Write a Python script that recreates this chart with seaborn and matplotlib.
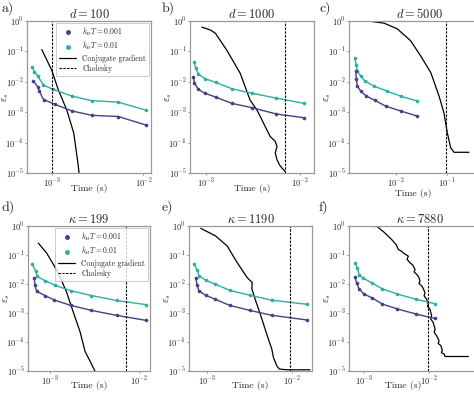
import matplotlib
matplotlib.use("Agg")
import seaborn as sns
from matplotlib import pyplot as plt
from matplotlib.lines import Line2D
from matplotlib.ticker import LogLocator, NullLocator

# a) d = 100
a_t_low = [6.31e-4, 7.03e-4, 7.28e-4, 8.13e-4, 1.09e-3, 1.66e-3, 2.73e-3, 5.33e-3, 1.06e-2]
a_e_low = [1.05e-2, 6.9e-3, 5.1e-3, 2.6e-3, 1.8e-3, 1.1e-3, 7.9e-4, 7.2e-4, 3.8e-4]
a_t_high = [6.05e-4, 6.47e-4, 7.03e-4, 8.11e-4, 1.04e-3, 1.65e-3, 2.73e-3, 5.33e-3, 1.06e-2]
a_e_high = [3.1e-2, 2.14e-2, 1.55e-2, 7.8e-3, 5.6e-3, 3.4e-3, 2.4e-3, 2.14e-3, 1.17e-3]
a_t_cg = [7.78e-4, 1.0e-3, 1.18e-3, 1.46e-3, 1.74e-3, 1.95e-3, 2.0e-3]
a_e_cg = [0.115, 2.4e-2, 5.4e-3, 1.17e-3, 2.04e-4, 1.66e-5, 8e-6]
a_chol = 1.0e-3

# b) d = 1000
b_t_low = [7.31e-4, 7.5e-4, 8.28e-4, 9.75e-4, 1.28e-3, 1.88e-3, 3.08e-3, 5.62e-3, 1.10e-2]
b_e_low = [1.48e-2, 9.3e-3, 5.6e-3, 4.2e-3, 3.1e-3, 1.95e-3, 1.41e-3, 8.7e-4, 6.6e-4]
b_t_high = [7.43e-4, 7.74e-4, 8.28e-4, 9.75e-4, 1.28e-3, 1.88e-3, 3.08e-3, 5.62e-3, 1.10e-2]
b_e_high = [4.57e-2, 2.88e-2, 1.78e-2, 1.26e-2, 9.5e-3, 5.9e-3, 4.2e-3, 2.9e-3, 1.95e-3]
b_t_cg = [9.0e-4, 1.12e-3, 1.26e-3, 1.66e-3, 2.31e-3, 2.94e-3, 3.47e-3, 3.93e-3, 4.44e-3,
          4.82e-3, 5.45e-3, 5.69e-3, 5.45e-3, 5.69e-3, 6.05e-3, 6.43e-3, 6.98e-3]
b_e_cg = [0.63, 0.50, 0.39, 0.11, 1.9e-2, 2.5e-3, 1.2e-3, 5.6e-4, 2.6e-4,
          1.58e-4, 1.1e-4, 7.4e-5, 4.6e-5, 2.75e-5, 1.86e-5, 1.45e-5, 1.1e-5]
b_chol = 7.0e-3

# c) d = 5000
c_t_low = [1.68e-3, 1.74e-3, 1.81e-3, 2.10e-3, 2.70e-3, 3.98e-3, 6.40e-3, 1.25e-2, 2.63e-2]
c_e_low = [2.29e-2, 1.2e-2, 7.2e-3, 5.0e-3, 3.4e-3, 2.45e-3, 1.58e-3, 1.1e-3, 7.4e-4]
c_t_high = [1.63e-3, 1.73e-3, 1.81e-3, 2.10e-3, 2.51e-3, 3.81e-3, 6.70e-3, 1.29e-2, 2.63e-2]
c_e_high = [5.9e-2, 3.55e-2, 2.29e-2, 1.55e-2, 1.07e-2, 7.2e-3, 5.0e-3, 3.3e-3, 2.34e-3]
c_t_cg = [3.55e-3, 5.94e-3, 1.08e-2, 1.95e-2, 3.05e-2, 4.79e-2, 6.92e-2, 8.6e-2, 0.1, 0.116, 0.135, 0.263]
c_e_cg = [0.955, 0.85, 0.55, 0.224, 7.1e-2, 2.0e-2, 3.4e-3, 9.5e-4, 2.1e-4, 6.8e-5, 4.8e-5, 4.8e-5]
c_chol = 9.3e-2

# d) kappa = 199
d_t_low = [6.68e-4, 6.79e-4, 7.10e-4, 8.79e-4, 1.12e-3, 1.72e-3, 2.92e-3, 5.57e-3, 1.18e-2]
d_e_low = [1.55e-2, 9.1e-3, 5.6e-3, 4.0e-3, 2.8e-3, 1.82e-3, 1.23e-3, 8.3e-4, 5.6e-4]
d_t_high = [6.34e-4, 6.92e-4, 7.21e-4, 8.79e-4, 1.14e-3, 1.70e-3, 2.92e-3, 5.57e-3, 1.18e-2]
d_e_high = [4.8e-2, 2.8e-2, 1.82e-2, 1.29e-2, 9.1e-3, 5.9e-3, 4.0e-3, 2.7e-3, 1.95e-3]
d_t_cg = [7.41e-4, 9.18e-4, 1.24e-3, 1.54e-3, 1.82e-3, 2.17e-3, 2.47e-3, 2.81e-3, 3.19e-3]
d_e_cg = [0.257, 0.117, 2.45e-2, 5.1e-3, 1.1e-3, 2.3e-4, 4.8e-5, 2.2e-5, 1.0e-5]
d_chol = 7.2e-3

# e) kappa = 1190
e_t_low = [7.29e-4, 7.62e-4, 7.98e-4, 9.55e-4, 1.25e-3, 1.85e-3, 3.18e-3, 5.82e-3, 1.5e-2]
e_e_low = [1.66e-2, 8.9e-3, 5.75e-3, 4.1e-3, 2.95e-3, 1.82e-3, 1.23e-3, 8.3e-4, 5.75e-4]
e_t_high = [6.97e-4, 7.62e-4, 7.98e-4, 9.55e-4, 1.25e-3, 1.85e-3, 3.18e-3, 5.82e-3, 1.5e-2]
e_e_high = [4.8e-2, 3.0e-2, 1.9e-2, 1.35e-2, 9.8e-3, 6.0e-3, 4.1e-3, 2.75e-3, 2.0e-3]
e_t_cg = [8.36e-4, 1.25e-3, 1.72e-3, 2.25e-3, 2.96e-3, 3.39e-3, 3.36e-3, 3.67e-3, 4.02e-3,
          4.41e-3, 4.81e-3, 5.26e-3, 5.77e-3, 6.03e-3, 6.61e-3, 7.10e-3, 8.67e-3, 1.63e-2]
e_e_cg = [0.83, 0.457, 0.204, 5.5e-2, 1.66e-2, 1.12e-2, 6.8e-3, 3.0e-3, 1.38e-3,
          6.2e-4, 2.8e-4, 1.26e-4, 5.75e-5, 2.95e-5, 1.5e-5, 1.17e-5, 1.1e-5, 1.1e-5]
e_chol = 9.5e-3

# f) kappa = 7880
f_t_low = [7.28e-4, 7.71e-4, 8.38e-4, 1.0e-3, 1.34e-3, 1.91e-3, 3.26e-3, 6.24e-3, 1.22e-2]
f_e_low = [1.7e-2, 1.07e-2, 6.8e-3, 4.5e-3, 3.3e-3, 2.04e-3, 1.38e-3, 9.3e-4, 6.5e-4]
f_t_high = [7.28e-4, 7.89e-4, 8.38e-4, 9.77e-4, 1.34e-3, 1.91e-3, 3.26e-3, 6.24e-3, 1.22e-2]
f_e_high = [5.25e-2, 3.55e-2, 2.09e-2, 1.58e-2, 1.07e-2, 6.8e-3, 4.5e-3, 3.0e-3, 2.1e-3]
f_t_cg = [8.9e-4, 1.6e-3, 2.1e-3, 2.67e-3, 3.16e-3, 3.37e-3, 3.72e-3, 4.03e-3, 4.81e-3,
          4.6e-3, 5.1e-3, 5.62e-3, 6.1e-3, 5.9e-3, 6.47e-3, 6.92e-3, 7.28e-3, 7.0e-3,
          7.73e-3, 8.13e-3, 8.67e-3, 8.4e-3, 9.23e-3, 9.75e-3, 9.5e-3, 1.035e-2, 1.10e-2,
          1.06e-2, 1.16e-2, 1.24e-2, 1.20e-2, 1.31e-2, 1.43e-2, 1.38e-2, 1.53e-2, 1.60e-2,
          1.55e-2, 1.72e-2, 1.76e-2, 4.03e-2]
f_e_cg = [1.0, 0.955, 0.575, 0.339, 0.219, 0.155, 0.138, 0.117, 9.1e-2,
          7.1e-2, 5.4e-2, 4.5e-2, 3.16e-2, 2.6e-2, 2.14e-2, 1.78e-2, 1.26e-2, 1.05e-2,
          8.5e-3, 7.1e-3, 5.0e-3, 3.9e-3, 2.95e-3, 2.0e-3, 1.7e-3, 1.35e-3, 7.9e-4,
          6.3e-4, 4.7e-4, 2.75e-4, 2.2e-4, 1.62e-4, 1.1e-4, 9.0e-5, 7.4e-5, 5.0e-5,
          4.3e-5, 3.8e-5, 3.16e-5, 3.16e-5]
f_chol = 9.75e-3

titles = [r"$d = 100$", r"$d = 1000$", r"$d = 5000$",
          r"$\kappa = 199$", r"$\kappa = 1190$", r"$\kappa = 7880$"]
letters = ["a)", "b)", "c)", "d)", "e)", "f)"]
labels = [r"$k_B T = 0.001$", r"$k_B T = 0.01$", "Conjugate gradient", "Cholesky"]

PURPLE = "#453f86"
TEAL = "#2cb09e"
DASH = (0, (2.2, 1.2))

sns.set_style("ticks")
plt.rcParams["font.family"] = ["serif"]
plt.rcParams["font.serif"] = ["cmr10", "DejaVu Serif"]
plt.rcParams["mathtext.fontset"] = "cm"
plt.rcParams["axes.formatter.use_mathtext"] = True

fig = plt.figure(figsize=(4.74, 3.94), dpi=100)

# axes boxes in pixels: left, top, right, bottom
boxes = [(27, 21, 151, 173), (190, 21, 314, 173), (349, 21, 490, 173),
         (28, 226, 150, 371), (189, 226, 312, 371), (349, 226, 490, 371)]
xlims = [(5.37e-4, 1.21e-2), (6.74e-4, 1.41e-2), (1.25e-3, 0.67),
         (5.68e-4, 1.32e-2), (6.09e-4, 1.72e-2), (5.88e-4, 0.0867)]
xlabel_x = [0.5, 0.5, 0.454, 0.5, 0.5, 0.383]
xlabel_drop = [15, 15, 20, 15, 15, 15]
letter_x = [1, 162, 319, 1, 162, 319]
letter_y = [2, 2, 2, 201, 201, 201]

panels = [
    (a_t_low, a_e_low, a_t_high, a_e_high, a_t_cg, a_e_cg, a_chol),
    (b_t_low, b_e_low, b_t_high, b_e_high, b_t_cg, b_e_cg, b_chol),
    (c_t_low, c_e_low, c_t_high, c_e_high, c_t_cg, c_e_cg, c_chol),
    (d_t_low, d_e_low, d_t_high, d_e_high, d_t_cg, d_e_cg, d_chol),
    (e_t_low, e_e_low, e_t_high, e_e_high, e_t_cg, e_e_cg, e_chol),
    (f_t_low, f_e_low, f_t_high, f_e_high, f_t_cg, f_e_cg, f_chol),
]

W, H = 474, 394
for i, (tl, el, th, eh, tc, ec, tchol) in enumerate(panels):
    l, t, r, b = boxes[i]
    ax = fig.add_axes([l / W, 1 - b / H, (r - l) / W, (b - t) / H])
    ax.set_xscale("log")
    ax.set_yscale("log")

    sns.lineplot(x=tc, y=ec, ax=ax, color="black", linewidth=0.9,
                 sort=False, estimator=None)
    sns.lineplot(x=th, y=eh, ax=ax, color=TEAL, linewidth=1.0, marker="o",
                 markersize=2.6, markeredgewidth=0, sort=False, estimator=None)
    sns.lineplot(x=tl, y=el, ax=ax, color=PURPLE, linewidth=1.0, marker="o",
                 markersize=2.6, markeredgewidth=0, sort=False, estimator=None)
    ax.axvline(tchol, color="black", linestyle=DASH, linewidth=0.8)

    ax.set_xlim(*xlims[i])
    ax.set_ylim(1e-5, 1)
    ax.xaxis.set_major_locator(LogLocator(base=10, numticks=10))
    ax.yaxis.set_major_locator(LogLocator(base=10, numticks=10))
    ax.xaxis.set_minor_locator(NullLocator())
    ax.yaxis.set_minor_locator(NullLocator())
    ax.tick_params(labelsize=6, length=1.5, width=0.6, pad=1, color="0.5")
    for sp in ax.spines.values():
        sp.set_color("0.6")
        sp.set_linewidth(0.9)

    ax.set_title(titles[i], fontsize=9, pad=2)
    ax.set_xlabel("Time (s)", fontsize=7, va="center")
    ax.set_ylabel(r"$\varepsilon_s$", fontsize=7.5, va="center")
    # fixed label positions, in pixels from the spines
    ax.xaxis.set_label_coords(xlabel_x[i], -xlabel_drop[i] / (b - t))
    ax.yaxis.set_label_coords(-21 / (r - l), 0.5)

    if i in (0, 3):
        handles = [
            Line2D([], [], marker="o", linestyle="", color=PURPLE, markersize=2.5),
            Line2D([], [], marker="o", linestyle="", color=TEAL, markersize=2.5),
            Line2D([], [], color="black", linewidth=0.9),
            Line2D([], [], color="black", linestyle=DASH, linewidth=0.8),
        ]
        leg = ax.legend(handles, labels, loc="upper right", fontsize=5.5,
                        fancybox=False, borderaxespad=0.25, handlelength=2.2,
                        labelspacing=0.25, borderpad=0.4)
        leg.get_frame().set_edgecolor("0.7")
        leg.get_frame().set_linewidth(0.6)

    fig.text(letter_x[i] / W, 1 - letter_y[i] / H, letters[i],
             fontsize=10, va="top", ha="left")

fig.savefig("out.png", dpi=100)
